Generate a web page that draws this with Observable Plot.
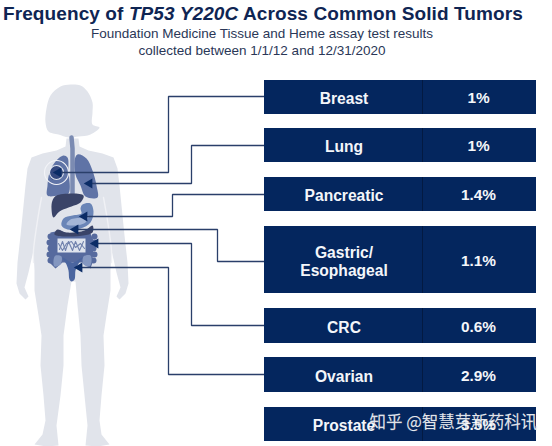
<!DOCTYPE html>
<html>
<head>
<meta charset="utf-8">
<script src="https://cdn.jsdelivr.net/npm/d3@7"></script>
<script src="https://cdn.jsdelivr.net/npm/@observablehq/plot@0.6"></script>
<style>
  html, body { margin: 0; padding: 0; background: #fff; }
  #wrap { width: 552px; overflow: hidden; font-family: "Liberation Sans", Arial, sans-serif; }
  #head { height: 70px; box-sizing: border-box; text-align: center; color: #14264f; position: relative; }
  #head h1 { position: absolute; left: 3px; top: 2px; margin: 0; text-align: left; font-size: 19px; line-height: 23px; font-weight: 700; letter-spacing: 0.1px; color: #0f2553; white-space: nowrap; }
  #head p { position: absolute; left: 0; width: 524px; margin: 0; font-size: 13.5px; line-height: 16px; color: #2a3757; }
  svg { display: block; }
</style>
</head>
<body>
<div id="wrap">
  <div id="head">
    <h1>Frequency of <i>TP53 Y220C</i> Across Common Solid Tumors</h1>
    <p style="top:26px">Foundation Medicine Tissue and Heme assay test results</p>
    <p style="top:43px">collected between 1/1/12 and 12/31/2020</p>
  </div>
  <div id="chart"></div>
</div>
<script>
// ---- values
const tumors = ["Breast", "Lung", "Pancreatic", "Gastric/\nEsophageal", "CRC", "Ovarian", "Prostate"];
const frequencies = [1, 1, 1.4, 1.1, 0.6, 2.9, 3.5];
const freqLabels = ["1%", "1%", "1.4%", "1.1%", "0.6%", "2.9%", "3.5%"];
const watermark = "知乎 @智慧芽新药科讯";

// ---- schematic layout, in the plot's own x/y data units
const rowTops = [80, 128, 177, 226, 308, 357, 407];
const rowBottoms = [114, 162, 211, 293, 343, 392, 441];
const tableX = [264, 422, 536];
const connectors = [
  [[264, 96], [168, 96], [168, 172], [58, 172]],
  [[264, 145], [191, 145], [191, 183], [89, 183]],
  [[264, 194], [172, 194], [172, 216], [84, 216]],
  [[264, 261], [217, 261], [217, 229], [75, 229]],
  [[264, 325], [191, 325], [191, 243], [95, 243]],
  [[264, 374], [168, 374], [168, 267], [79, 267]]
];

const rows = tumors.map((name, i) => ({
  name, freq: frequencies[i], label: freqLabels[i],
  top: rowTops[i], bottom: rowBottoms[i], mid: (rowTops[i] + rowBottoms[i]) / 2
}));

// silhouette and organs (schematic outlines)
const bodyOutline = [
  [66,138],[65,146],[56,150],[42,153],[31,157],[27,168],[25,185],[23,205],[20,235],[17,262],[16,283],[19,293],[25,299],[28,296],[24,287],[28,272],
  [33,250],[34,270],[34,290],[38,315],[41,335],[40,365],[43,395],[45,420],[42,434],[34,444],[46,446],[58,445],[56,425],[60,395],[63,365],[63,335],[67,305],[71,281],
  [75,281],[77,305],[80,335],[81,365],[84,395],[87,425],[85,445],[97,446],[109,444],[101,434],[99,420],[101,395],[104,365],[103,335],[106,315],[110,290],[110,270],[111,250],
  [116,272],[120,287],[116,296],[119,299],[125,293],[128,283],[127,262],[124,235],[121,205],[119,185],[117,168],[113,157],[102,153],[88,150],[79,146],[78,138]
];
const hair = [[70,84],[60,86],[50,95],[46,108],[45,122],[48,131],[58,134],[68,137],[78,136],[90,134],[99,127],[92,124],[92,112],[92,102],[87,91],[80,85]];
const armGaps = [
  [[41,197],[37,220],[33,250],[33,262]],
  [[103,197],[107,220],[111,250],[111,262]]
];
const lungLeft = [[63,155],[55,161],[49,172],[47,185],[47,195],[58,195],[68,193],[68,170],[67,157]];
const lungRight = [[77,154],[86,158],[92,170],[96,185],[97,197],[85,196],[80,185],[75,174],[74,160]];
const trachea = [[71,137],[72,148],[72,156],[72,195]];
const breastCore = [[55,165],[62,170],[60,178],[52,179],[49,172]];
const liver = [[52,200],[56,195],[83,195],[80,202],[68,207],[59,211],[53,217],[51,208]];
const stomach = [[82,204],[90,203],[93,211],[90,222],[80,228],[67,229],[61,225],[63,218],[72,215],[81,213],[80,208]];
const stomachInner = [[81,217],[88,215],[85,222],[74,225],[66,224],[70,219]];
const pancreas = [[57,229],[66,232],[84,230],[92,225],[92,232],[70,236],[54,234]];
const colon = [[50,232],[60,230],[70,235],[90,233],[93,240],[92,262],[90,268],[82,262],[62,262],[55,268],[49,262],[48,245]];
const colonBumps = [[50,236],[49,242],[50,248],[49,254],[50,260],[94,236],[94,242],[93,248],[94,254],[93,260]];
const intestineBox = [[57,238],[85,238],[85,252],[57,252]];
const squiggles = [
  [[59,249],[62,241],[65,250],[68,241],[72,250],[75,241],[79,250],[83,241]],
  [[58,243],[62,250],[66,243],[71,241],[75,247],[80,243],[84,248]]
];
const uterus = [[62,257],[72,262],[82,257],[77,265],[75,270],[74,279],[71,281],[69,279],[68,270],[66,264]];
const ovaryL = [[55,255],[61,256],[60,264],[54,266],[53,260]];
const ovaryR = [[83,256],[90,255],[91,261],[89,266],[83,264]];

const shape = (pts, fill, curve = "catmull-rom-closed") =>
  Plot.line(pts, {x: d => d[0], y: d => d[1], fill, stroke: "none", curve});
const stroke = (pts, color, w, extra = {}) =>
  Plot.line(pts, {x: d => d[0], y: d => d[1], stroke: color, strokeWidth: w, curve: "linear", ...extra});

const navy = "#04265e";
const plot = Plot.plot({
  width: 552, height: 376,
  margin: 0,
  x: {domain: [0, 552], range: [0, 552], axis: null},
  y: {domain: [70, 446], range: [0, 376], axis: null},
  style: {background: "#fff"},
  marks: [
    shape(bodyOutline, "#e1e4eb", "linear-closed"),
    shape(hair, "#e1e4eb"),
    ...armGaps.map(g => stroke(g, "#f0f1f5", 1.4, {curve: "catmull-rom"})),
    Plot.dot(colonBumps, {x: d => d[0], y: d => d[1], r: 3, fill: "#566a9e"}),
    shape(colon, "#566a9e", "linear-closed"),
    shape(lungLeft, "#5f73a6"),
    shape(lungRight, "#5f73a6"),
    stroke(trachea, "#7b8bb2", 4.5),
    shape(breastCore, "#34487e"),
    Plot.dot([[56, 172]], {x: d => d[0], y: d => d[1], r: 7, stroke: "#e6e9f1", strokeWidth: 1.1, fill: "none"}),
    Plot.dot([[56, 172]], {x: d => d[0], y: d => d[1], r: 12, stroke: "#f3f4f8", strokeWidth: 1.1, fill: "none"}),
    shape(liver, "#3a4468"),
    shape(pancreas, "#3a4468"),
    shape(stomach, "#6a85b7"),
    shape(stomachInner, "#a3b5d7"),
    shape(intestineBox, "#dfe4ee", "linear-closed"),
    ...squiggles.map(s => stroke(s, "#7182ad", 1.1)),
    shape(ovaryL, "#8497c0"),
    shape(ovaryR, "#8497c0"),
    shape(uterus, "#4a659f"),
    ...connectors.map(c => stroke(c, "#2a3f6a", 1.3, {strokeLinejoin: "miter"})),
    Plot.dot(connectors.map(c => c[3]), {
      x: d => d[0], y: d => d[1], symbol: "triangle", r: 3.7, rotate: -90,
      fill: "#0b2c66", stroke: "none"
    }),
    Plot.rect(rows, {x1: () => tableX[0], x2: () => tableX[2], y1: "top", y2: "bottom", fill: navy}),
    Plot.ruleX(rows, {x: () => tableX[1], y1: "top", y2: "bottom", stroke: "#031a42", strokeWidth: 1}),
    Plot.text(rows, {
      x: () => (tableX[0] + tableX[1]) / 2 + 0.5, y: "mid", dy: 1, text: "name",
      fill: "#f4f6fa", fontSize: 15.6, fontWeight: 700, lineHeight: 1.17,
      fontFamily: "Liberation Sans"
    }),
    Plot.text(rows, {
      x: () => (tableX[1] + tableX[2]) / 2 - 1, y: "mid", dy: 1, text: "label",
      fill: "#f4f6fa", fontSize: 15.4, fontWeight: 700, fontFamily: "Liberation Sans"
    }),
    Plot.text([watermark], {
      x: () => 369, y: () => 422, text: d => d, textAnchor: "start",
      fill: "#ffffff", fillOpacity: 0.88, stroke: "#8c93a3", strokeWidth: 0.25, fontSize: 16.5,
      fontFamily: "Noto Sans CJK SC"
    })
  ]
});
document.getElementById("chart").appendChild(plot);
</script>
</body>
</html>
